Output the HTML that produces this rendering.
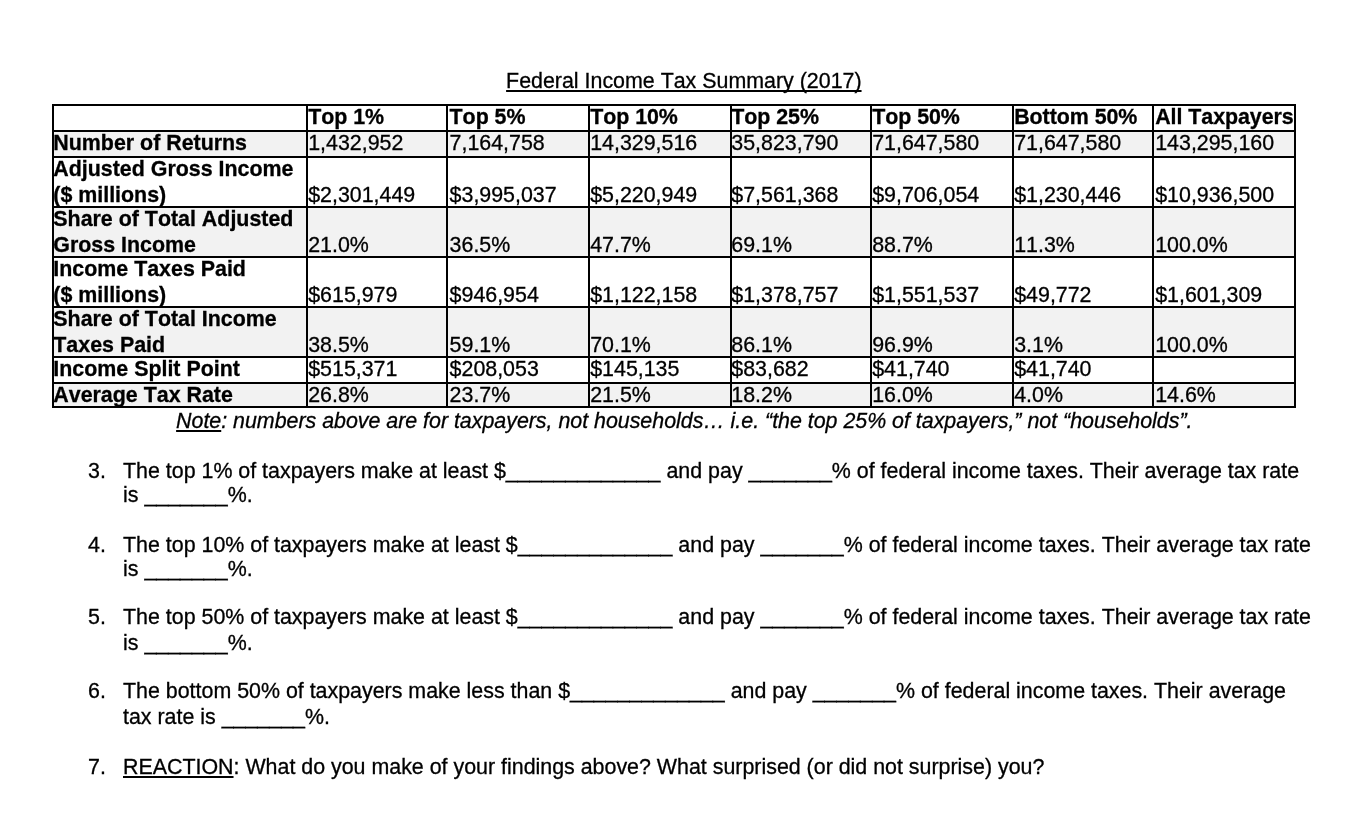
<!DOCTYPE html>
<html>
<head>
<meta charset="utf-8">
<title>Federal Income Tax Summary (2017)</title>
<style>
html,body{margin:0;padding:0;background:#fff;}
body{width:1346px;height:828px;position:relative;overflow:hidden;font-family:"Liberation Sans",Arial,Helvetica,sans-serif;color:#000;font-size:21.4px;line-height:24px;font-kerning:none;-webkit-text-stroke:0.3px #000;}
div{position:absolute;white-space:nowrap;}
.b{font-weight:bold;}
.i{font-style:italic;}
.h{letter-spacing:-0.05px;}
.ln{background:#000;}
.g{background:#f2f2f2;}
.u{text-decoration:underline;text-decoration-thickness:1.7px;text-underline-offset:2.1px;text-decoration-skip-ink:none;}
</style>
</head>
<body>
<div class="g" style="left:54px;top:132.0px;width:1240px;height:24.0px"></div>
<div class="g" style="left:54px;top:208.0px;width:1240px;height:48.0px"></div>
<div class="g" style="left:54px;top:308.0px;width:1240px;height:48.0px"></div>
<div class="g" style="left:54px;top:384.0px;width:1240px;height:22.0px"></div>
<div class="ln" style="left:52px;top:104px;width:1244px;height:2px"></div>
<div class="ln" style="left:52px;top:130px;width:1244px;height:2px"></div>
<div class="ln" style="left:52px;top:156px;width:1244px;height:2px"></div>
<div class="ln" style="left:52px;top:206px;width:1244px;height:2px"></div>
<div class="ln" style="left:52px;top:256px;width:1244px;height:2px"></div>
<div class="ln" style="left:52px;top:306px;width:1244px;height:2px"></div>
<div class="ln" style="left:52px;top:356px;width:1244px;height:2px"></div>
<div class="ln" style="left:52px;top:382px;width:1244px;height:2px"></div>
<div class="ln" style="left:52px;top:406px;width:1244px;height:2px"></div>
<div class="ln" style="left:52px;top:104px;width:2px;height:304px"></div>
<div class="ln" style="left:306px;top:104px;width:2px;height:304px"></div>
<div class="ln" style="left:446px;top:104px;width:2px;height:304px"></div>
<div class="ln" style="left:588px;top:104px;width:2px;height:304px"></div>
<div class="ln" style="left:730px;top:104px;width:2px;height:304px"></div>
<div class="ln" style="left:870px;top:104px;width:2px;height:304px"></div>
<div class="ln" style="left:1012px;top:104px;width:2px;height:304px"></div>
<div class="ln" style="left:1152px;top:104px;width:2px;height:304px"></div>
<div class="ln" style="left:1294px;top:104px;width:2px;height:304px"></div>
<div class="b h" style="left:308.20px;top:105.00px">Top 1%</div>
<div class="b h" style="left:449.60px;top:105.00px">Top 5%</div>
<div class="b h" style="left:590.20px;top:105.00px">Top 10%</div>
<div class="b h" style="left:731.30px;top:105.00px">Top 25%</div>
<div class="b h" style="left:872.20px;top:105.00px">Top 50%</div>
<div class="b h" style="left:1014.20px;top:105.00px">Bottom 50%</div>
<div class="b h" style="left:1155.20px;top:105.00px">All Taxpayers</div>
<div class="b" style="left:53.30px;top:131.00px">Number of Returns</div>
<div style="left:308.20px;top:131.00px">1,432,952</div>
<div style="left:449.60px;top:131.00px">7,164,758</div>
<div style="left:590.20px;top:131.00px">14,329,516</div>
<div style="left:731.30px;top:131.00px">35,823,790</div>
<div style="left:872.20px;top:131.00px">71,647,580</div>
<div style="left:1014.20px;top:131.00px">71,647,580</div>
<div style="left:1155.20px;top:131.00px">143,295,160</div>
<div class="b" style="left:53.30px;top:157.00px">Adjusted Gross Income</div>
<div class="b" style="left:53.30px;top:183.00px">($ millions)</div>
<div style="left:308.20px;top:183.00px">$2,301,449</div>
<div style="left:449.60px;top:183.00px">$3,995,037</div>
<div style="left:590.20px;top:183.00px">$5,220,949</div>
<div style="left:731.30px;top:183.00px">$7,561,368</div>
<div style="left:872.20px;top:183.00px">$9,706,054</div>
<div style="left:1014.20px;top:183.00px">$1,230,446</div>
<div style="left:1155.20px;top:183.00px">$10,936,500</div>
<div class="b" style="left:53.30px;top:207.00px">Share of Total Adjusted</div>
<div class="b" style="left:53.30px;top:233.00px">Gross Income</div>
<div style="left:308.20px;top:233.00px">21.0%</div>
<div style="left:449.60px;top:233.00px">36.5%</div>
<div style="left:590.20px;top:233.00px">47.7%</div>
<div style="left:731.30px;top:233.00px">69.1%</div>
<div style="left:872.20px;top:233.00px">88.7%</div>
<div style="left:1014.20px;top:233.00px">11.3%</div>
<div style="left:1155.20px;top:233.00px">100.0%</div>
<div class="b" style="left:53.30px;top:257.00px">Income Taxes Paid</div>
<div class="b" style="left:53.30px;top:283.00px">($ millions)</div>
<div style="left:308.20px;top:283.00px">$615,979</div>
<div style="left:449.60px;top:283.00px">$946,954</div>
<div style="left:590.20px;top:283.00px">$1,122,158</div>
<div style="left:731.30px;top:283.00px">$1,378,757</div>
<div style="left:872.20px;top:283.00px">$1,551,537</div>
<div style="left:1014.20px;top:283.00px">$49,772</div>
<div style="left:1155.20px;top:283.00px">$1,601,309</div>
<div class="b" style="left:53.30px;top:307.00px">Share of Total Income</div>
<div class="b" style="left:53.30px;top:333.00px">Taxes Paid</div>
<div style="left:308.20px;top:333.00px">38.5%</div>
<div style="left:449.60px;top:333.00px">59.1%</div>
<div style="left:590.20px;top:333.00px">70.1%</div>
<div style="left:731.30px;top:333.00px">86.1%</div>
<div style="left:872.20px;top:333.00px">96.9%</div>
<div style="left:1014.20px;top:333.00px">3.1%</div>
<div style="left:1155.20px;top:333.00px">100.0%</div>
<div class="b" style="left:53.30px;top:357.00px">Income Split Point</div>
<div style="left:308.20px;top:357.00px">$515,371</div>
<div style="left:449.60px;top:357.00px">$208,053</div>
<div style="left:590.20px;top:357.00px">$145,135</div>
<div style="left:731.30px;top:357.00px">$83,682</div>
<div style="left:872.20px;top:357.00px">$41,740</div>
<div style="left:1014.20px;top:357.00px">$41,740</div>
<div class="b" style="left:53.30px;top:383.00px">Average Tax Rate</div>
<div style="left:308.20px;top:383.00px">26.8%</div>
<div style="left:449.60px;top:383.00px">23.7%</div>
<div style="left:590.20px;top:383.00px">21.5%</div>
<div style="left:731.30px;top:383.00px">18.2%</div>
<div style="left:872.20px;top:383.00px">16.0%</div>
<div style="left:1014.20px;top:383.00px">4.0%</div>
<div style="left:1155.20px;top:383.00px">14.6%</div>
<div class="u" style="left:506.1px;top:69.00px;letter-spacing:0px">Federal Income Tax Summary (2017)</div>
<div class="i" style="left:176.1px;top:409.00px;letter-spacing:-0.014px"><span class="u">Note</span>: numbers above are for taxpayers, not households… i.e. “the top 25% of taxpayers,” not “households”.</div>
<div style="left:88.00px;top:459.00px">3.</div>
<div style="left:123.00px;top:459.00px">The top 1% of taxpayers make at least $_____________ and pay _______% of federal income taxes. Their average tax rate</div>
<div style="left:123.00px;top:483.00px">is _______%.</div>
<div style="left:88.00px;top:533.00px">4.</div>
<div style="left:123.00px;top:533.00px">The top 10% of taxpayers make at least $_____________ and pay _______% of federal income taxes. Their average tax rate</div>
<div style="left:123.00px;top:557.00px">is _______%.</div>
<div style="left:88.00px;top:605.00px">5.</div>
<div style="left:123.00px;top:605.00px">The top 50% of taxpayers make at least $_____________ and pay _______% of federal income taxes. Their average tax rate</div>
<div style="left:123.00px;top:631.00px">is _______%.</div>
<div style="left:88.00px;top:679.00px">6.</div>
<div style="left:123.00px;top:679.00px">The bottom 50% of taxpayers make less than $_____________ and pay _______% of federal income taxes. Their average</div>
<div style="left:123.00px;top:705.00px">tax rate is _______%.</div>
<div style="left:88.00px;top:755.00px">7.</div>
<div style="left:123.00px;top:755.00px"><span class="u">REACTION</span>: What do you make of your findings above? What surprised (or did not surprise) you?</div>
</body>
</html>
